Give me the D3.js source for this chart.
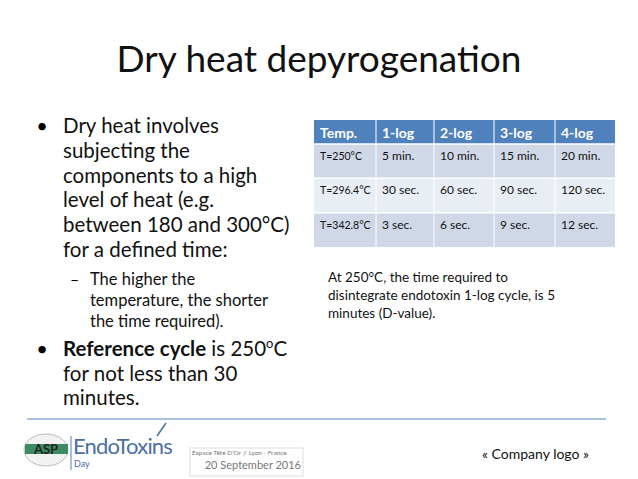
<!DOCTYPE html><html><head><meta charset="utf-8">
<script src="https://cdnjs.cloudflare.com/ajax/libs/d3/7.8.5/d3.min.js"></script>
<style>body{margin:0;background:#fff}text{font-family:Lato,"Open Sans",sans-serif}</style></head><body>
<script>
const columns=["Temp.","1-log","2-log","3-log","4-log"];
const temps=["T=250°C","T=296.4°C","T=342.8°C"];
const rows=[["5 min.","10 min.","15 min.","20 min."],["30 sec.","60 sec.","90 sec.","120 sec."],["3 sec.","6 sec.","9 sec.","12 sec."]];
const W=638,H=479;
const svg=d3.select("body").append("svg").attr("width",W).attr("height",H);
svg.append("text").attr("x",319).attr("y",72).attr("text-anchor","middle").attr("font-size",37).attr("fill","#111").text("Dry heat depyrogenation");
const L=[[1,133,"Dry heat involves"],[0,158,"subjecting the"],[0,183,"components to a high"],[0,207,"level of heat (e.g."],[0,232,"between 180 and 300°C)"],[0,257,"for a defined time:"]];
L.forEach(d=>{if(d[0])svg.append("text").attr("x",42).attr("y",d[1]).attr("text-anchor","middle").attr("font-size",20).text("•");svg.append("text").attr("x",63).attr("y",d[1]).attr("font-size",20.5).attr("fill","#111").text(d[2]);});
svg.append("text").attr("x",70).attr("y",285).attr("font-size",16).text("–");
["The higher the","temperature, the shorter","the time required)."].forEach((t,i)=>svg.append("text").attr("x",90).attr("y",285+i*21).attr("font-size",16.5).attr("fill","#111").text(t));
svg.append("text").attr("x",42).attr("y",356).attr("text-anchor","middle").attr("font-size",20).text("•");
const t1=svg.append("text").attr("x",63).attr("y",356).attr("font-size",20.5).attr("fill","#111");
t1.append("tspan").attr("font-weight","bold").text("Reference cycle");t1.append("tspan").text(" is 250");t1.append("tspan").attr("font-size",13).attr("dy",-8).text("o");t1.append("tspan").attr("dy",8).text("C");
["for not less than 30","minutes."].forEach((t,i)=>svg.append("text").attr("x",63).attr("y",381+i*24).attr("font-size",20.5).attr("fill","#111").text(t));
const colEdges=[314,376,434,494,555,615];
const x=d3.scaleOrdinal().domain(columns).range(colEdges.slice(0,5));
const y=d3.scaleBand().domain(d3.range(3)).range([144,247]);
const g=svg.append("g");
g.append("rect").attr("x",314).attr("y",120).attr("width",301).attr("height",24).attr("fill","#4F81BD");
columns.forEach(c=>g.append("text").attr("x",x(c)+6).attr("y",138).attr("font-size",14).attr("font-weight","bold").attr("fill","#fff").text(c));
rows.forEach((r,i)=>{
 g.append("rect").attr("x",314).attr("y",y(i)).attr("width",301).attr("height",y.bandwidth()).attr("fill",i%2?"#E9EDF4":"#D0D8E8");
 [temps[i]].concat(r).forEach((v,j)=>g.append("text").attr("x",x(columns[j])+6).attr("y",y(i)+16).attr("font-size",j?12:10.5).attr("fill","#111").text(v));
});
colEdges.slice(1,5).forEach(e=>g.append("line").attr("x1",e).attr("x2",e).attr("y1",120).attr("y2",247).attr("stroke","#fff").attr("stroke-width",1));
y.domain().forEach(i=>g.append("line").attr("x1",314).attr("x2",615).attr("y1",y(i)).attr("y2",y(i)).attr("stroke","#fff").attr("stroke-width",1.5));
["At 250°C, the time required to","disintegrate endotoxin 1-log cycle, is 5","minutes (D-value)."].forEach((t,i)=>svg.append("text").attr("x",328).attr("y",282+i*18).attr("font-size",13.5).attr("fill","#111").text(t));
svg.append("line").attr("x1",27).attr("x2",606).attr("y1",419).attr("y2",419).attr("stroke","#4F81BD").attr("stroke-width",1.2);
svg.append("ellipse").attr("cx",46).attr("cy",450).attr("rx",22).attr("ry",16).attr("fill","#f2f2f2").attr("stroke","#bbb");
svg.append("rect").attr("x",25).attr("y",444).attr("width",43).attr("height",10).attr("fill","#3d8a63");
svg.append("text").attr("x",46).attr("y",454).attr("text-anchor","middle").attr("font-size",13).attr("font-weight","bold").attr("fill","#222").text("ASP");
svg.append("line").attr("x1",71).attr("x2",71).attr("y1",436).attr("y2",470).attr("stroke","#4F81BD");
svg.append("text").attr("x",73).attr("y",454).attr("font-size",22).attr("font-family","Liberation Sans").attr("fill","#4a6fa5").attr("letter-spacing",-0.8).text("EndoToxins");
svg.append("text").attr("x",74).attr("y",467).attr("font-size",9).attr("font-family","Liberation Sans").attr("fill","#4a6fa5").text("Day");
svg.append("line").attr("x1",157).attr("x2",166).attr("y1",436).attr("y2",423).attr("stroke","#4a6fa5").attr("stroke-width",1.5);
svg.append("rect").attr("x",190).attr("y",448).attr("width",113).attr("height",28).attr("fill","none").attr("stroke","#ddd");
svg.append("text").attr("x",192).attr("y",455).attr("font-size",6.5).attr("font-family","Liberation Sans").attr("fill","#777").text("Espace Tête D'Or // Lyon - France");
svg.append("text").attr("x",301).attr("y",469).attr("text-anchor","end").attr("font-size",11).attr("font-family","Liberation Sans").attr("fill","#777").text("20 September 2016");
svg.append("text").attr("x",482).attr("y",459).attr("font-size",14).attr("fill","#111").text("« Company logo »");
</script></body></html>
